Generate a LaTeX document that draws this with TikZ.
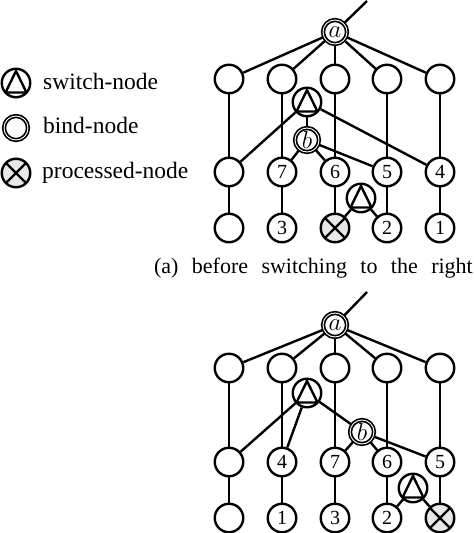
\documentclass[tikz,border=0pt]{standalone}
\usepackage{fontspec}
\setmainfont{Liberation Serif}
\begin{document}
\begin{tikzpicture}[x=1pt,y=-1pt,
  nd/.style={circle,draw,line width=2.4pt,minimum size=28.5pt,inner sep=0pt,font=\fontsize{20}{20}\selectfont},
  bindnd/.style={circle,draw,line width=1.7pt,double=white,double distance=0.9pt,minimum size=24pt,inner sep=0pt,font=\fontsize{24}{24}\selectfont},
  switchnd/.style={nd,path picture={\draw[line width=2.4pt,line join=miter]
      ([yshift=12pt]path picture bounding box.center) --
      ([xshift=-10.5pt,yshift=-9.5pt]path picture bounding box.center) --
      ([xshift=10.5pt,yshift=-9.5pt]path picture bounding box.center) -- cycle;}},
  procnd/.style={nd,fill=gray!18,path picture={\draw[line width=2.4pt]
      (path picture bounding box.north west) -- (path picture bounding box.south east)
      (path picture bounding box.south west) -- (path picture bounding box.north east);}},
  conn/.style={line width=2.4pt},
  legtext/.style={anchor=base west,inner sep=0pt,font=\fontsize{23.5}{26}\selectfont},
  captext/.style={anchor=base east,inner sep=0pt,font=\fontsize{22}{26}\selectfont}
]
\useasboundingbox (0,0) rectangle (474,533);

% legend
\node[switchnd] (ls) at (16,83) {};
\node[legtext] (lst) at (43,89) {switch-node};
\node[bindnd] (lb) at (16,128) {};
\node[legtext] (lbt) at (43,133) {bind-node};
\node[procnd] (lp) at (16,173) {};
\node[legtext] (lpt) at (42,178) {processed-node};

% ---------- (a) ----------
\coordinate (ta) at (367,1);
\node[bindnd] (A1) at (335,32) {$a$};
\node[nd] (p11) at (229,79) {};
\node[nd] (p12) at (282,79) {};
\node[nd] (p13) at (335,79) {};
\node[nd] (p14) at (387,79) {};
\node[nd] (p15) at (440,79) {};
\node[switchnd] (s1) at (307,102) {};
\node[bindnd] (b1) at (307,140) {$b$};
\node[nd] (p21) at (229,172) {};
\node[nd] (p22) at (282,172) {7};
\node[nd] (p23) at (335,172) {6};
\node[nd] (p24) at (387,172) {5};
\node[nd] (p25) at (440,172) {4};
\node[switchnd] (s2) at (361,198) {};
\node[nd] (p31) at (229,228) {};
\node[nd] (p32) at (282,228) {3};
\node[procnd] (p33) at (335,228) {};
\node[nd] (p34) at (387,228) {2};
\node[nd] (p35) at (440,228) {1};

\draw[conn] (A1) -- (ta);
\foreach \i in {1,...,5}{
  \draw[conn] (A1) -- (p1\i);
  \draw[conn] (p1\i) -- (p2\i);
  \draw[conn] (p2\i) -- (p3\i);
}
\draw[conn] (s1) -- (p21);
\draw[conn] (s1) -- (p25);
\draw[conn] (s1) -- (b1);
\draw[conn] (b1) -- (p22);
\draw[conn] (b1) -- (p23);
\draw[conn] (b1) -- (p24);
\draw[conn] (s2) -- (p33);
\draw[conn] (s2) -- (p34);

\node[captext] (capa) at (473,273) {\spaceskip=13.4pt (a) before switching to the right};

% ---------- (b) ----------
\coordinate (tb) at (367,292);
\node[bindnd] (A2) at (335,325) {$a$};
\node[nd] (q11) at (229,368) {};
\node[nd] (q12) at (282,368) {};
\node[nd] (q13) at (335,368) {};
\node[nd] (q14) at (387,368) {};
\node[nd] (q15) at (440,368) {};
\node[switchnd] (s3) at (307,393) {};
\node[bindnd] (b2) at (362,432) {$b$};
\node[nd] (q21) at (229,462) {};
\node[nd] (q22) at (282,462) {4};
\node[nd] (q23) at (335,462) {7};
\node[nd] (q24) at (387,462) {6};
\node[nd] (q25) at (440,462) {5};
\node[switchnd] (s4) at (413,488) {};
\node[nd] (q31) at (229,518) {};
\node[nd] (q32) at (282,518) {1};
\node[nd] (q33) at (335,518) {3};
\node[nd] (q34) at (387,518) {2};
\node[procnd] (q35) at (440,518) {};

\draw[conn] (A2) -- (tb);
\foreach \i in {1,...,5}{
  \draw[conn] (A2) -- (q1\i);
  \draw[conn] (q1\i) -- (q2\i);
  \draw[conn] (q2\i) -- (q3\i);
}
\draw[conn] (s3) -- (q21);
\draw[conn] (s3) -- (q22);
\draw[conn] (s3) -- (b2);
\draw[conn] (b2) -- (q23);
\draw[conn] (b2) -- (q24);
\draw[conn] (b2) -- (q25);
\draw[conn] (s4) -- (q34);
\draw[conn] (s4) -- (q35);
\end{tikzpicture}
\end{document}
